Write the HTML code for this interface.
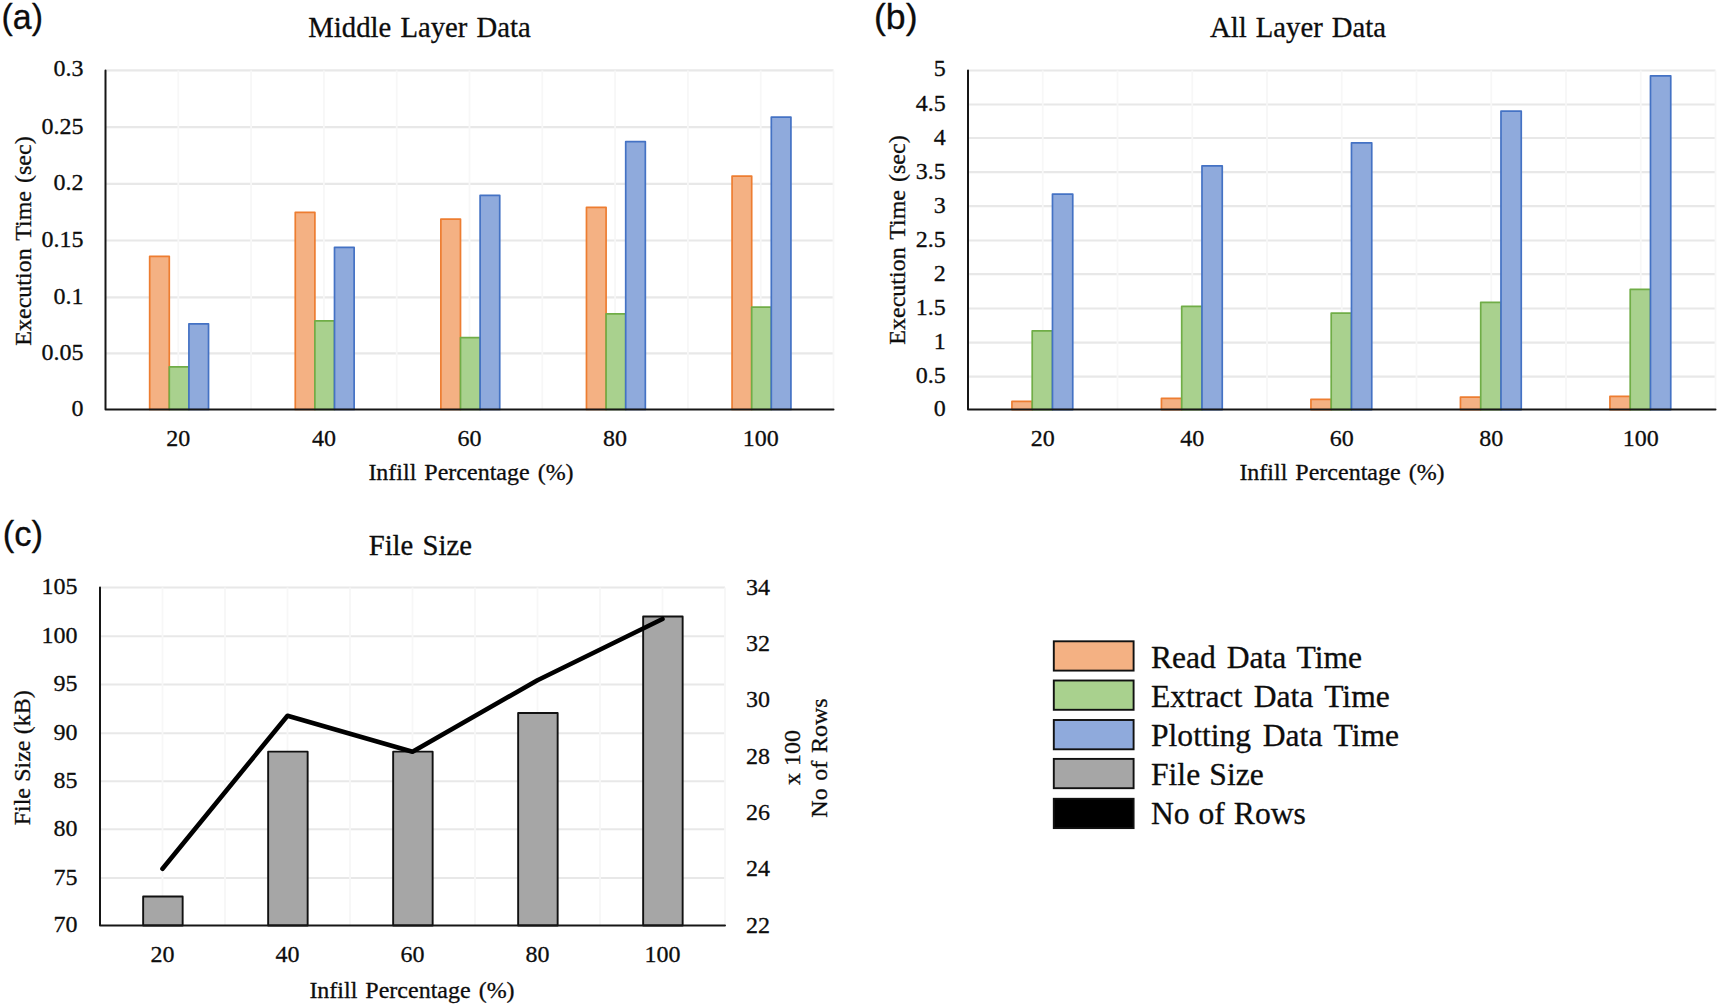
<!DOCTYPE html>
<html lang="en">
<head>
<meta charset="utf-8">
<title>Execution time and file size versus infill percentage</title>
<style>
html,body{margin:0;padding:0;background:#fff;}
body{width:1720px;height:1004px;overflow:hidden;}
svg{display:block;}
text{fill:#0d0d0d;stroke:#0d0d0d;stroke-width:0.3px;stroke-linejoin:round;}
</style>
</head>
<body>
<svg width="1720" height="1004" viewBox="0 0 1720 1004">
<rect width="1720" height="1004" fill="#fff"/>
<line x1="105.5" x2="833.5" y1="70.40" y2="70.40" stroke="#E8E8E8" stroke-width="2.2"/>
<line x1="105.5" x2="833.5" y1="127.20" y2="127.20" stroke="#E8E8E8" stroke-width="2.2"/>
<line x1="105.5" x2="833.5" y1="183.80" y2="183.80" stroke="#E8E8E8" stroke-width="2.2"/>
<line x1="105.5" x2="833.5" y1="240.50" y2="240.50" stroke="#E8E8E8" stroke-width="2.2"/>
<line x1="105.5" x2="833.5" y1="297.30" y2="297.30" stroke="#E8E8E8" stroke-width="2.2"/>
<line x1="105.5" x2="833.5" y1="353.40" y2="353.40" stroke="#E8E8E8" stroke-width="2.2"/>
<line x1="178.30" x2="178.30" y1="70.4" y2="409.5" stroke="#F7F7F7" stroke-width="1.8"/>
<line x1="251.10" x2="251.10" y1="70.4" y2="409.5" stroke="#F7F7F7" stroke-width="1.8"/>
<line x1="323.90" x2="323.90" y1="70.4" y2="409.5" stroke="#F7F7F7" stroke-width="1.8"/>
<line x1="396.70" x2="396.70" y1="70.4" y2="409.5" stroke="#F7F7F7" stroke-width="1.8"/>
<line x1="469.50" x2="469.50" y1="70.4" y2="409.5" stroke="#F7F7F7" stroke-width="1.8"/>
<line x1="542.30" x2="542.30" y1="70.4" y2="409.5" stroke="#F7F7F7" stroke-width="1.8"/>
<line x1="615.10" x2="615.10" y1="70.4" y2="409.5" stroke="#F7F7F7" stroke-width="1.8"/>
<line x1="687.90" x2="687.90" y1="70.4" y2="409.5" stroke="#F7F7F7" stroke-width="1.8"/>
<line x1="760.70" x2="760.70" y1="70.4" y2="409.5" stroke="#F7F7F7" stroke-width="1.8"/>
<line x1="833.50" x2="833.50" y1="70.4" y2="409.5" stroke="#F7F7F7" stroke-width="1.8"/>
<rect x="149.67" y="256.30" width="19.62" height="153.20" fill="#F4B183" stroke="#ED7D31" stroke-width="1.7" stroke-linejoin="round"/>
<rect x="169.29" y="366.80" width="19.62" height="42.70" fill="#A9D18E" stroke="#70AD47" stroke-width="1.7" stroke-linejoin="round"/>
<rect x="188.91" y="323.80" width="19.62" height="85.70" fill="#8FAADC" stroke="#4472C4" stroke-width="1.7" stroke-linejoin="round"/>
<rect x="295.27" y="212.30" width="19.62" height="197.20" fill="#F4B183" stroke="#ED7D31" stroke-width="1.7" stroke-linejoin="round"/>
<rect x="314.89" y="320.80" width="19.62" height="88.70" fill="#A9D18E" stroke="#70AD47" stroke-width="1.7" stroke-linejoin="round"/>
<rect x="334.51" y="247.30" width="19.62" height="162.20" fill="#8FAADC" stroke="#4472C4" stroke-width="1.7" stroke-linejoin="round"/>
<rect x="440.87" y="219.05" width="19.62" height="190.45" fill="#F4B183" stroke="#ED7D31" stroke-width="1.7" stroke-linejoin="round"/>
<rect x="460.49" y="337.55" width="19.62" height="71.95" fill="#A9D18E" stroke="#70AD47" stroke-width="1.7" stroke-linejoin="round"/>
<rect x="480.11" y="195.30" width="19.62" height="214.20" fill="#8FAADC" stroke="#4472C4" stroke-width="1.7" stroke-linejoin="round"/>
<rect x="586.47" y="207.30" width="19.62" height="202.20" fill="#F4B183" stroke="#ED7D31" stroke-width="1.7" stroke-linejoin="round"/>
<rect x="606.09" y="313.80" width="19.62" height="95.70" fill="#A9D18E" stroke="#70AD47" stroke-width="1.7" stroke-linejoin="round"/>
<rect x="625.71" y="141.55" width="19.62" height="267.95" fill="#8FAADC" stroke="#4472C4" stroke-width="1.7" stroke-linejoin="round"/>
<rect x="732.07" y="176.05" width="19.62" height="233.45" fill="#F4B183" stroke="#ED7D31" stroke-width="1.7" stroke-linejoin="round"/>
<rect x="751.69" y="307.05" width="19.62" height="102.45" fill="#A9D18E" stroke="#70AD47" stroke-width="1.7" stroke-linejoin="round"/>
<rect x="771.31" y="117.05" width="19.62" height="292.45" fill="#8FAADC" stroke="#4472C4" stroke-width="1.7" stroke-linejoin="round"/>
<path d="M105.5 70.4 V409.5 H833.5" fill="none" stroke="#161616" stroke-width="2" stroke-linejoin="round" stroke-linecap="round"/>
<text x="83.6" y="75.80000000000001" font-size="24" text-anchor="end" font-family='"Liberation Serif", "DejaVu Serif", serif' >0.3</text>
<text x="83.6" y="133.8" font-size="24" text-anchor="end" font-family='"Liberation Serif", "DejaVu Serif", serif' >0.25</text>
<text x="83.6" y="190.4" font-size="24" text-anchor="end" font-family='"Liberation Serif", "DejaVu Serif", serif' >0.2</text>
<text x="83.6" y="247.1" font-size="24" text-anchor="end" font-family='"Liberation Serif", "DejaVu Serif", serif' >0.15</text>
<text x="83.6" y="303.90000000000003" font-size="24" text-anchor="end" font-family='"Liberation Serif", "DejaVu Serif", serif' >0.1</text>
<text x="83.6" y="360.0" font-size="24" text-anchor="end" font-family='"Liberation Serif", "DejaVu Serif", serif' >0.05</text>
<text x="83.6" y="416.1" font-size="24" text-anchor="end" font-family='"Liberation Serif", "DejaVu Serif", serif' >0</text>
<text x="178.3" y="446" font-size="24" text-anchor="middle" font-family='"Liberation Serif", "DejaVu Serif", serif' >20</text>
<text x="323.9" y="446" font-size="24" text-anchor="middle" font-family='"Liberation Serif", "DejaVu Serif", serif' >40</text>
<text x="469.5" y="446" font-size="24" text-anchor="middle" font-family='"Liberation Serif", "DejaVu Serif", serif' >60</text>
<text x="615.0999999999999" y="446" font-size="24" text-anchor="middle" font-family='"Liberation Serif", "DejaVu Serif", serif' >80</text>
<text x="760.6999999999999" y="446" font-size="24" text-anchor="middle" font-family='"Liberation Serif", "DejaVu Serif", serif' >100</text>
<text x="471" y="480.2" font-size="24" text-anchor="middle" font-family='"Liberation Serif", "DejaVu Serif", serif' word-spacing="2">Infill Percentage (%)</text>
<text x="419.5" y="36.8" font-size="28.7" text-anchor="middle" font-family='"Liberation Serif", "DejaVu Serif", serif' word-spacing="2">Middle Layer Data</text>
<text transform="translate(30.6 241) rotate(-90)" font-size="24" text-anchor="middle" font-family='"Liberation Serif", "DejaVu Serif", serif' word-spacing="2">Execution Time (sec)</text>
<text transform="translate(1.5 28.9) scale(0.98 1)" font-size="34.6" font-family='"Liberation Sans", "DejaVu Sans", sans-serif'>(a)</text>
<line x1="968" x2="1715.5" y1="70.50" y2="70.50" stroke="#E8E8E8" stroke-width="2.2"/>
<line x1="968" x2="1715.5" y1="104.50" y2="104.50" stroke="#E8E8E8" stroke-width="2.2"/>
<line x1="968" x2="1715.5" y1="138.00" y2="138.00" stroke="#E8E8E8" stroke-width="2.2"/>
<line x1="968" x2="1715.5" y1="172.10" y2="172.10" stroke="#E8E8E8" stroke-width="2.2"/>
<line x1="968" x2="1715.5" y1="206.10" y2="206.10" stroke="#E8E8E8" stroke-width="2.2"/>
<line x1="968" x2="1715.5" y1="240.50" y2="240.50" stroke="#E8E8E8" stroke-width="2.2"/>
<line x1="968" x2="1715.5" y1="274.20" y2="274.20" stroke="#E8E8E8" stroke-width="2.2"/>
<line x1="968" x2="1715.5" y1="308.50" y2="308.50" stroke="#E8E8E8" stroke-width="2.2"/>
<line x1="968" x2="1715.5" y1="342.70" y2="342.70" stroke="#E8E8E8" stroke-width="2.2"/>
<line x1="968" x2="1715.5" y1="376.70" y2="376.70" stroke="#E8E8E8" stroke-width="2.2"/>
<line x1="1042.75" x2="1042.75" y1="70.5" y2="409.6" stroke="#F7F7F7" stroke-width="1.8"/>
<line x1="1117.50" x2="1117.50" y1="70.5" y2="409.6" stroke="#F7F7F7" stroke-width="1.8"/>
<line x1="1192.25" x2="1192.25" y1="70.5" y2="409.6" stroke="#F7F7F7" stroke-width="1.8"/>
<line x1="1267.00" x2="1267.00" y1="70.5" y2="409.6" stroke="#F7F7F7" stroke-width="1.8"/>
<line x1="1341.75" x2="1341.75" y1="70.5" y2="409.6" stroke="#F7F7F7" stroke-width="1.8"/>
<line x1="1416.50" x2="1416.50" y1="70.5" y2="409.6" stroke="#F7F7F7" stroke-width="1.8"/>
<line x1="1491.25" x2="1491.25" y1="70.5" y2="409.6" stroke="#F7F7F7" stroke-width="1.8"/>
<line x1="1566.00" x2="1566.00" y1="70.5" y2="409.6" stroke="#F7F7F7" stroke-width="1.8"/>
<line x1="1640.75" x2="1640.75" y1="70.5" y2="409.6" stroke="#F7F7F7" stroke-width="1.8"/>
<line x1="1715.50" x2="1715.50" y1="70.5" y2="409.6" stroke="#F7F7F7" stroke-width="1.8"/>
<rect x="1011.94" y="401.30" width="20.27" height="8.30" fill="#F4B183" stroke="#ED7D31" stroke-width="1.7" stroke-linejoin="round"/>
<rect x="1032.21" y="330.80" width="20.27" height="78.80" fill="#A9D18E" stroke="#70AD47" stroke-width="1.7" stroke-linejoin="round"/>
<rect x="1052.48" y="194.05" width="20.27" height="215.55" fill="#8FAADC" stroke="#4472C4" stroke-width="1.7" stroke-linejoin="round"/>
<rect x="1161.44" y="398.30" width="20.27" height="11.30" fill="#F4B183" stroke="#ED7D31" stroke-width="1.7" stroke-linejoin="round"/>
<rect x="1181.71" y="306.30" width="20.27" height="103.30" fill="#A9D18E" stroke="#70AD47" stroke-width="1.7" stroke-linejoin="round"/>
<rect x="1201.98" y="165.80" width="20.27" height="243.80" fill="#8FAADC" stroke="#4472C4" stroke-width="1.7" stroke-linejoin="round"/>
<rect x="1310.94" y="399.30" width="20.27" height="10.30" fill="#F4B183" stroke="#ED7D31" stroke-width="1.7" stroke-linejoin="round"/>
<rect x="1331.21" y="313.05" width="20.27" height="96.55" fill="#A9D18E" stroke="#70AD47" stroke-width="1.7" stroke-linejoin="round"/>
<rect x="1351.48" y="142.80" width="20.27" height="266.80" fill="#8FAADC" stroke="#4472C4" stroke-width="1.7" stroke-linejoin="round"/>
<rect x="1460.44" y="397.05" width="20.27" height="12.55" fill="#F4B183" stroke="#ED7D31" stroke-width="1.7" stroke-linejoin="round"/>
<rect x="1480.71" y="302.30" width="20.27" height="107.30" fill="#A9D18E" stroke="#70AD47" stroke-width="1.7" stroke-linejoin="round"/>
<rect x="1500.98" y="111.05" width="20.27" height="298.55" fill="#8FAADC" stroke="#4472C4" stroke-width="1.7" stroke-linejoin="round"/>
<rect x="1609.94" y="396.30" width="20.27" height="13.30" fill="#F4B183" stroke="#ED7D31" stroke-width="1.7" stroke-linejoin="round"/>
<rect x="1630.21" y="289.30" width="20.27" height="120.30" fill="#A9D18E" stroke="#70AD47" stroke-width="1.7" stroke-linejoin="round"/>
<rect x="1650.48" y="75.80" width="20.27" height="333.80" fill="#8FAADC" stroke="#4472C4" stroke-width="1.7" stroke-linejoin="round"/>
<path d="M968 70.5 V409.6 H1715.5" fill="none" stroke="#161616" stroke-width="2" stroke-linejoin="round" stroke-linecap="round"/>
<text x="945.8" y="75.9" font-size="24" text-anchor="end" font-family='"Liberation Serif", "DejaVu Serif", serif' >5</text>
<text x="945.8" y="111.1" font-size="24" text-anchor="end" font-family='"Liberation Serif", "DejaVu Serif", serif' >4.5</text>
<text x="945.8" y="144.6" font-size="24" text-anchor="end" font-family='"Liberation Serif", "DejaVu Serif", serif' >4</text>
<text x="945.8" y="178.7" font-size="24" text-anchor="end" font-family='"Liberation Serif", "DejaVu Serif", serif' >3.5</text>
<text x="945.8" y="212.7" font-size="24" text-anchor="end" font-family='"Liberation Serif", "DejaVu Serif", serif' >3</text>
<text x="945.8" y="247.1" font-size="24" text-anchor="end" font-family='"Liberation Serif", "DejaVu Serif", serif' >2.5</text>
<text x="945.8" y="280.8" font-size="24" text-anchor="end" font-family='"Liberation Serif", "DejaVu Serif", serif' >2</text>
<text x="945.8" y="315.1" font-size="24" text-anchor="end" font-family='"Liberation Serif", "DejaVu Serif", serif' >1.5</text>
<text x="945.8" y="349.3" font-size="24" text-anchor="end" font-family='"Liberation Serif", "DejaVu Serif", serif' >1</text>
<text x="945.8" y="383.3" font-size="24" text-anchor="end" font-family='"Liberation Serif", "DejaVu Serif", serif' >0.5</text>
<text x="945.8" y="416.20000000000005" font-size="24" text-anchor="end" font-family='"Liberation Serif", "DejaVu Serif", serif' >0</text>
<text x="1042.75" y="446" font-size="24" text-anchor="middle" font-family='"Liberation Serif", "DejaVu Serif", serif' >20</text>
<text x="1192.25" y="446" font-size="24" text-anchor="middle" font-family='"Liberation Serif", "DejaVu Serif", serif' >40</text>
<text x="1341.75" y="446" font-size="24" text-anchor="middle" font-family='"Liberation Serif", "DejaVu Serif", serif' >60</text>
<text x="1491.25" y="446" font-size="24" text-anchor="middle" font-family='"Liberation Serif", "DejaVu Serif", serif' >80</text>
<text x="1640.75" y="446" font-size="24" text-anchor="middle" font-family='"Liberation Serif", "DejaVu Serif", serif' >100</text>
<text x="1342" y="480" font-size="24" text-anchor="middle" font-family='"Liberation Serif", "DejaVu Serif", serif' word-spacing="2">Infill Percentage (%)</text>
<text x="1298" y="36.8" font-size="28.7" text-anchor="middle" font-family='"Liberation Serif", "DejaVu Serif", serif' word-spacing="2">All Layer Data</text>
<text transform="translate(905 240) rotate(-90)" font-size="24" text-anchor="middle" font-family='"Liberation Serif", "DejaVu Serif", serif' word-spacing="2">Execution Time (sec)</text>
<text transform="translate(874.0 28.7) scale(1.03 1)" font-size="34.6" font-family='"Liberation Sans", "DejaVu Sans", sans-serif'>(b)</text>
<line x1="100" x2="725" y1="587.50" y2="587.50" stroke="#E8E8E8" stroke-width="2.2"/>
<line x1="100" x2="725" y1="636.25" y2="636.25" stroke="#E8E8E8" stroke-width="2.2"/>
<line x1="100" x2="725" y1="684.50" y2="684.50" stroke="#E8E8E8" stroke-width="2.2"/>
<line x1="100" x2="725" y1="733.25" y2="733.25" stroke="#E8E8E8" stroke-width="2.2"/>
<line x1="100" x2="725" y1="781.25" y2="781.25" stroke="#E8E8E8" stroke-width="2.2"/>
<line x1="100" x2="725" y1="829.25" y2="829.25" stroke="#E8E8E8" stroke-width="2.2"/>
<line x1="100" x2="725" y1="878.00" y2="878.00" stroke="#E8E8E8" stroke-width="2.2"/>
<line x1="162.50" x2="162.50" y1="587.5" y2="925.5" stroke="#F7F7F7" stroke-width="1.8"/>
<line x1="225.00" x2="225.00" y1="587.5" y2="925.5" stroke="#F7F7F7" stroke-width="1.8"/>
<line x1="287.50" x2="287.50" y1="587.5" y2="925.5" stroke="#F7F7F7" stroke-width="1.8"/>
<line x1="350.00" x2="350.00" y1="587.5" y2="925.5" stroke="#F7F7F7" stroke-width="1.8"/>
<line x1="412.50" x2="412.50" y1="587.5" y2="925.5" stroke="#F7F7F7" stroke-width="1.8"/>
<line x1="475.00" x2="475.00" y1="587.5" y2="925.5" stroke="#F7F7F7" stroke-width="1.8"/>
<line x1="537.50" x2="537.50" y1="587.5" y2="925.5" stroke="#F7F7F7" stroke-width="1.8"/>
<line x1="600.00" x2="600.00" y1="587.5" y2="925.5" stroke="#F7F7F7" stroke-width="1.8"/>
<line x1="662.50" x2="662.50" y1="587.5" y2="925.5" stroke="#F7F7F7" stroke-width="1.8"/>
<line x1="725.00" x2="725.00" y1="587.5" y2="925.5" stroke="#F7F7F7" stroke-width="1.8"/>
<rect x="143.15" y="896.53" width="39.50" height="28.97" fill="#A6A6A6" stroke="#111" stroke-width="1.9" stroke-linejoin="round"/>
<rect x="268.15" y="751.67" width="39.50" height="173.83" fill="#A6A6A6" stroke="#111" stroke-width="1.9" stroke-linejoin="round"/>
<rect x="393.15" y="751.67" width="39.50" height="173.83" fill="#A6A6A6" stroke="#111" stroke-width="1.9" stroke-linejoin="round"/>
<rect x="518.15" y="713.04" width="39.50" height="212.46" fill="#A6A6A6" stroke="#111" stroke-width="1.9" stroke-linejoin="round"/>
<rect x="643.15" y="616.47" width="39.50" height="309.03" fill="#A6A6A6" stroke="#111" stroke-width="1.9" stroke-linejoin="round"/>
<path d="M100 587.5 V925.5 H725" fill="none" stroke="#161616" stroke-width="2" stroke-linejoin="round" stroke-linecap="round"/>
<polyline points="162.5,868.8 287.5,715.7 412.5,751.8 537.5,680.2 662.5,619" fill="none" stroke="#000" stroke-width="4.6" stroke-linejoin="round" stroke-linecap="round"/>
<text x="77.6" y="593.5" font-size="24" text-anchor="end" font-family='"Liberation Serif", "DejaVu Serif", serif' >105</text>
<text x="77.6" y="642.85" font-size="24" text-anchor="end" font-family='"Liberation Serif", "DejaVu Serif", serif' >100</text>
<text x="77.6" y="691.1" font-size="24" text-anchor="end" font-family='"Liberation Serif", "DejaVu Serif", serif' >95</text>
<text x="77.6" y="739.85" font-size="24" text-anchor="end" font-family='"Liberation Serif", "DejaVu Serif", serif' >90</text>
<text x="77.6" y="787.85" font-size="24" text-anchor="end" font-family='"Liberation Serif", "DejaVu Serif", serif' >85</text>
<text x="77.6" y="835.85" font-size="24" text-anchor="end" font-family='"Liberation Serif", "DejaVu Serif", serif' >80</text>
<text x="77.6" y="884.6" font-size="24" text-anchor="end" font-family='"Liberation Serif", "DejaVu Serif", serif' >75</text>
<text x="77.6" y="932.1" font-size="24" text-anchor="end" font-family='"Liberation Serif", "DejaVu Serif", serif' >70</text>
<text x="746" y="594.5" font-size="24" text-anchor="start" font-family='"Liberation Serif", "DejaVu Serif", serif' >34</text>
<text x="746" y="650.8333333333334" font-size="24" text-anchor="start" font-family='"Liberation Serif", "DejaVu Serif", serif' >32</text>
<text x="746" y="707.1666666666666" font-size="24" text-anchor="start" font-family='"Liberation Serif", "DejaVu Serif", serif' >30</text>
<text x="746" y="763.5" font-size="24" text-anchor="start" font-family='"Liberation Serif", "DejaVu Serif", serif' >28</text>
<text x="746" y="819.8333333333334" font-size="24" text-anchor="start" font-family='"Liberation Serif", "DejaVu Serif", serif' >26</text>
<text x="746" y="876.1666666666667" font-size="24" text-anchor="start" font-family='"Liberation Serif", "DejaVu Serif", serif' >24</text>
<text x="746" y="932.5" font-size="24" text-anchor="start" font-family='"Liberation Serif", "DejaVu Serif", serif' >22</text>
<text x="162.5" y="962" font-size="24" text-anchor="middle" font-family='"Liberation Serif", "DejaVu Serif", serif' >20</text>
<text x="287.5" y="962" font-size="24" text-anchor="middle" font-family='"Liberation Serif", "DejaVu Serif", serif' >40</text>
<text x="412.5" y="962" font-size="24" text-anchor="middle" font-family='"Liberation Serif", "DejaVu Serif", serif' >60</text>
<text x="537.5" y="962" font-size="24" text-anchor="middle" font-family='"Liberation Serif", "DejaVu Serif", serif' >80</text>
<text x="662.5" y="962" font-size="24" text-anchor="middle" font-family='"Liberation Serif", "DejaVu Serif", serif' >100</text>
<text x="412" y="997.5" font-size="24" text-anchor="middle" font-family='"Liberation Serif", "DejaVu Serif", serif' word-spacing="2">Infill Percentage (%)</text>
<text x="420.3" y="554.6" font-size="28.7" text-anchor="middle" font-family='"Liberation Serif", "DejaVu Serif", serif' word-spacing="2">File Size</text>
<text transform="translate(30.4 757.8) rotate(-90)" font-size="24" text-anchor="middle" font-family='"Liberation Serif", "DejaVu Serif", serif' word-spacing="0.2">File Size (kB)</text>
<text transform="translate(799.5 757.5) rotate(-90)" font-size="24" text-anchor="middle" font-family='"Liberation Serif", "DejaVu Serif", serif' word-spacing="1">x 100</text>
<text transform="translate(827.4 758) rotate(-90)" font-size="24" text-anchor="middle" font-family='"Liberation Serif", "DejaVu Serif", serif' word-spacing="1.7">No of Rows</text>
<text transform="translate(2.7 546.4) scale(1.0 1)" font-size="34.6" font-family='"Liberation Sans", "DejaVu Sans", sans-serif'>(c)</text>
<rect x="1053.8" y="641.30" width="79.8" height="29.3" fill="#F4B183" stroke="#111" stroke-width="1.9"/>
<text x="1151" y="667.6" font-size="31.6" text-anchor="start" font-family='"Liberation Serif", "DejaVu Serif", serif' word-spacing="2.9">Read Data Time</text>
<rect x="1053.8" y="680.50" width="79.8" height="29.3" fill="#A9D18E" stroke="#111" stroke-width="1.9"/>
<text x="1151" y="706.8000000000001" font-size="31.6" text-anchor="start" font-family='"Liberation Serif", "DejaVu Serif", serif' word-spacing="3.55">Extract Data Time</text>
<rect x="1053.8" y="720.00" width="79.8" height="29.3" fill="#8FAADC" stroke="#111" stroke-width="1.9"/>
<text x="1151" y="746.0" font-size="31.6" text-anchor="start" font-family='"Liberation Serif", "DejaVu Serif", serif' word-spacing="3.8">Plotting Data Time</text>
<rect x="1053.8" y="758.90" width="79.8" height="29.3" fill="#A6A6A6" stroke="#111" stroke-width="1.9"/>
<text x="1151" y="785.2" font-size="31.6" text-anchor="start" font-family='"Liberation Serif", "DejaVu Serif", serif' word-spacing="1.3">File Size</text>
<rect x="1053.8" y="798.80" width="79.8" height="29.3" fill="#000" stroke="#111" stroke-width="1.9"/>
<text x="1151" y="824.4000000000001" font-size="31.6" text-anchor="start" font-family='"Liberation Serif", "DejaVu Serif", serif' word-spacing="1.05">No of Rows</text>
</svg>
</body>
</html>
